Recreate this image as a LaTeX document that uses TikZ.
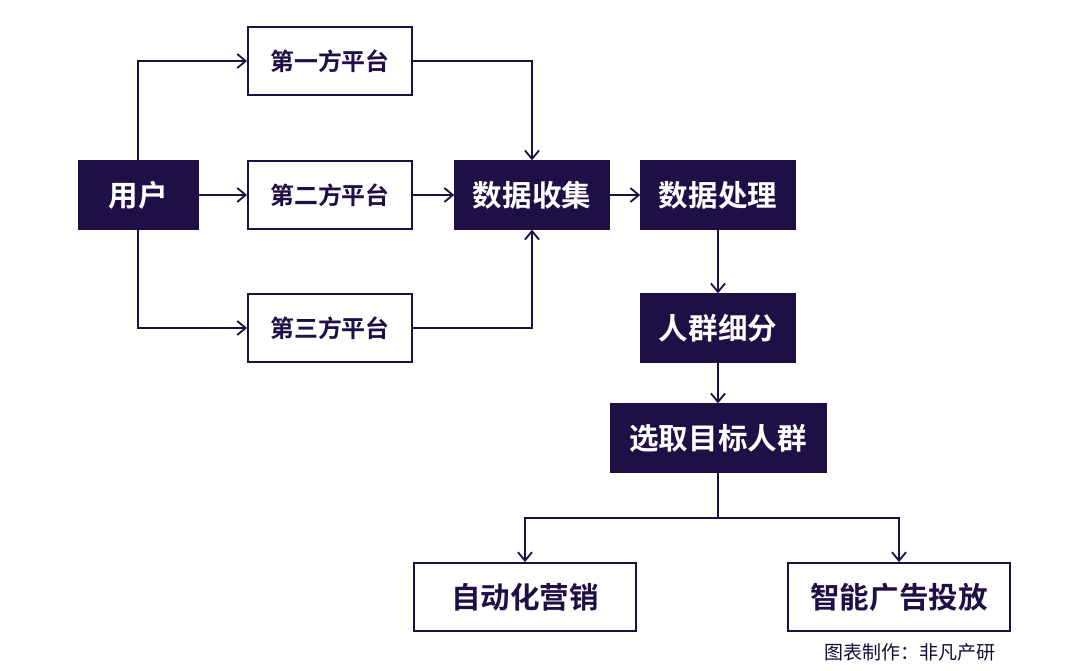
\documentclass[tikz,border=0pt]{standalone}
\usepackage{fontspec}
\setmainfont{Noto Sans CJK SC}
\newfontfamily\cjkb{Noto Sans CJK SC Bold}
\usetikzlibrary{arrows.meta}
\definecolor{navy}{HTML}{1E0F45}
\begin{document}
\begin{tikzpicture}[x=0.025cm,y=-0.025cm,
 dark/.style={fill=navy,draw=navy,text=white,minimum height=1.72cm,font=\cjkb\fontsize{21}{24}\selectfont,inner sep=0pt},
 light/.style={fill=white,draw=navy,line width=1.3pt,text=navy,minimum height=1.68cm,font=\cjkb\fontsize{17}{20}\selectfont,inner sep=0pt},
 big/.style={light,font=\cjkb\fontsize{21}{24}\selectfont,minimum height=1.7cm},
 conn/.style={draw=navy,line width=1.3pt,-{Straight Barb[length=6pt,width=10pt,line width=1.3pt]}},
 ln/.style={draw=navy,line width=1.3pt}]
\useasboundingbox (0,0) rectangle (1080,671);
\node[dark,minimum width=3cm] (u) at (138,195) {用户};
\node[light,minimum width=4.1cm] (p1) at (330,61) {第一方平台};
\node[light,minimum width=4.1cm] (p2) at (330,195) {第二方平台};
\node[light,minimum width=4.1cm] (p3) at (330,328) {第三方平台};
\node[dark,minimum width=3.875cm] (c) at (532,195) {数据收集};
\node[dark,minimum width=3.875cm] (d) at (718,195) {数据处理};
\node[dark,minimum width=3.875cm] (s) at (718,328) {人群细分};
\node[dark,minimum width=5.4cm] (t) at (718,438) {选取目标人群};
\node[big,minimum width=5.55cm] (a) at (525,597) {自动化营销};
\node[big,minimum width=5.55cm] (g) at (899,597) {智能广告投放};
\node[text=navy!80!black,font=\fontsize{13.5}{16}\selectfont,anchor=east] (cr) at (1000,652) {图表制作：非凡产研};
\coordinate (j) at (718,518);
\draw[conn] (u) -- (p2);
\draw[conn] (u.north) |- (p1);
\draw[conn] (u.south) |- (p3);
\draw[conn] (p1) -| (c.north);
\draw[conn] (p3) -| (c.south);
\draw[conn] (p2) -- (c);
\draw[conn] (c) -- (d);
\draw[conn] (d) -- (s);
\draw[conn] (s) -- (t);
\draw[ln] (t.south) -- (j);
\draw[conn] (j) -| (a.north);
\draw[conn] (j) -| (g.north);
\end{tikzpicture}
\end{document}
